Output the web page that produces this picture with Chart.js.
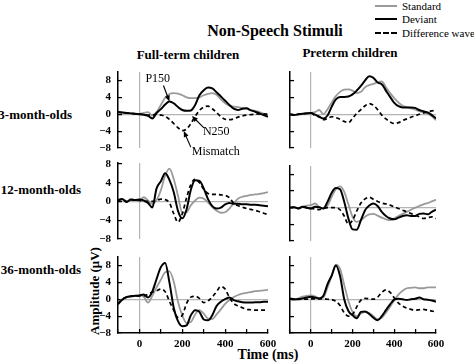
<!DOCTYPE html>
<html>
<head>
<meta charset="utf-8">
<script src="https://cdn.jsdelivr.net/npm/chart.js@4.4.0/dist/chart.umd.min.js"></script>
<style>
  body { margin: 0; background: #fff; }
  #fig { position: relative; width: 474px; height: 362px; overflow: hidden; background: #fff;
         font-family: "Liberation Serif", "Times New Roman", serif; color: #000; }
  #fig canvas { position: absolute; }
  .t { position: absolute; white-space: nowrap; line-height: 1; font-weight: bold; }
  .c { transform: translate(-50%, -50%); }
  .r { transform: translateY(-50%); text-align: right; }
  .key { position: absolute; left: 375px; width: 22px; height: 0; }
  .keytxt { position: absolute; left: 402px; font-size: 11px; line-height: 1; transform: translateY(-50%); white-space: nowrap; }
</style>
</head>
<body>
<div id="fig">
  <div class="t c" style="left:275px; top:31px; font-size:16px;">Non-Speech Stimuli</div>
  <div class="t c" style="left:188px; top:54px; font-size:13px;">Full-term children</div>
  <div class="t c" style="left:350px; top:52px; font-size:13px;">Preterm children</div>

  <div class="t r" style="right:402px; top:114px; font-size:13px;">3-month-olds</div>
  <div class="t r" style="right:393px; top:189px; font-size:13px;">12-month-olds</div>
  <div class="t r" style="right:393px; top:269px; font-size:13px;">36-month-olds</div>

  <div class="t c" style="left:94px; top:291px; font-size:13px; transform: translate(-50%, -50%) rotate(-90deg);">Amplitude (&mu;V)</div>
  <div class="t c" style="left:268px; top:355px; font-size:14px;">Time (ms)</div>

  <div class="key" style="top:5px; border-top: 2px solid #9a9a9a;"></div>
  <div class="keytxt" style="top:6px;">Standard</div>
  <div class="key" style="top:18px; border-top: 2.5px solid #000;"></div>
  <div class="keytxt" style="top:19px;">Deviant</div>
  <div class="key" style="top:32px; border-top: 2px dashed #000;"></div>
  <div class="keytxt" style="top:33px;">Difference wave</div>
</div>

<script>
// time points (ms)
const times = [-100,-80,-60,-40,-20,0,20,40,60,80, 100,120,140,160,180,200,220,240,260,280, 300,320,340,360,380,400,420,440,460,480, 500,520,540,560,580,600];

// full-term, 3 months
const ft3Std  = [0.5,0.4,0.3,0.2,0.1,0.1,0.3,0.5,-0.3,0.5, 2.2,3.9,4.8,5.0,4.9,4.5,4.0,3.8,3.8,4.0, 4.5,4.8,5.0,4.6,3.5,2.6,2.0,1.8,1.7,1.5, 1.3,1.0,0.8,0.5,0.1,-0.4];
const ft3Dev  = [0.5,0.4,0.3,0.2,0.1,0.0,-0.1,-0.4,-1.0,0.3, 1.2,2.3,3.0,2.6,1.7,1.0,0.8,0.9,2.2,4.5, 5.7,6.3,6.1,5.2,4.2,3.2,2.2,1.3,1.0,1.3, 1.4,0.9,0.6,0.2,-0.2,-0.6];
const ft3Diff = [0.5,0.4,0.3,0.2,0.1,0.0,-0.1,-0.2,-0.2,0.0, -0.2,-0.5,-1.2,-2.2,-3.2,-3.9,-3.5,-2.2,-0.5,0.9, 1.7,1.9,1.3,0.4,-0.6,-1.2,-1.3,-1.1,-0.7,-0.4, -0.2,-0.1,0.0,0.1,0.1,0.0];

// full-term, 12 months
const ft12Std  = [0.3,0.4,0.1,0.3,0.3,0.3,0.9,0.2,-0.5,0.3, 2.4,5.5,7.0,4.8,1.2,-2.4,-2.3,-0.8,0.2,0.8, 0.6,-0.2,-1.2,-2.0,-2.4,-2.3,-1.5,-0.4,0.6,1.0, 1.2,1.4,1.5,1.6,1.8,2.0];
const ft12Dev  = [0.3,0.5,-0.1,0.4,0.3,0.4,0.2,-0.3,-1.3,2.8, 4.3,6.0,4.6,2.0,-2.0,-3.6,-1.7,2.5,4.5,4.4, 2.8,0.5,-1.0,-1.5,-1.3,-0.6,-0.3,-0.5,-0.5,-0.6, -0.6,-0.7,-0.7,-0.8,-0.9,-1.0];
const ft12Diff = [0.3,0.5,-0.1,0.4,0.3,0.2,0.0,0.0,0.0,0.2, 0.5,0.4,-0.3,-2.6,-4.4,-2.6,0.8,3.6,4.8,4.0, 2.6,1.7,1.5,1.5,1.4,1.3,0.8,-0.4,-0.9,-1.2, -1.5,-1.7,-1.9,-2.2,-2.5,-2.8];

// full-term, 36 months
const ft36Std  = [-1.0,0.0,0.5,0.7,0.8,0.9,0.6,-0.8,0.8,2.8, 4.6,6.4,6.6,4.2,-0.6,-3.8,-5.6,-5.4,-3.6,-2.6, -3.4,-4.6,-4.7,-3.6,-2.4,-1.1,-0.2,0.5,1.0,1.3, 1.5,1.7,1.9,2.0,2.1,2.2];
const ft36Dev  = [-1.2,-0.1,0.5,0.7,0.8,0.9,1.1,0.4,1.8,4.8, 7.6,8.6,4.0,-2.0,-5.2,-6.4,-6.2,-3.8,-2.6,-3.0, -4.8,-5.0,-3.8,-1.6,-0.6,0.0,0.4,-0.2,-0.5,-0.7, -0.8,-0.8,-0.7,-0.7,-0.6,-0.6];
const ft36Diff = [-1.0,0.0,0.5,0.7,0.8,0.8,0.8,1.2,1.7,2.0, 2.4,1.8,-0.5,-2.6,-4.3,-3.8,-1.0,0.5,0.7,0.2, -0.8,-0.4,0.5,1.8,3.0,2.4,0.4,-1.0,-1.6,-2.0, -2.4,-2.5,-2.6,-2.6,-2.6,-2.6];

// preterm, 3 months
const pt3Std  = [0.0,-0.2,0.0,0.1,0.2,0.3,0.5,1.0,0.0,1.2, 2.8,4.3,5.3,5.8,5.9,5.6,5.0,5.3,6.4,6.9, 7.2,7.6,7.8,6.4,5.0,3.8,2.8,2.0,1.7,1.4, 1.1,0.7,0.4,0.1,-0.5,-1.4];
const pt3Dev  = [0.0,-0.2,0.0,0.1,0.2,0.3,-0.1,-0.6,-1.0,-0.3, 1.8,3.5,4.1,4.1,4.2,4.7,5.6,6.7,8.0,9.0, 8.6,7.5,7.1,5.6,4.1,2.7,1.9,1.6,1.6,1.6, 1.5,1.0,0.7,0.4,-0.2,-1.0];
const pt3Diff = [0.0,-0.2,0.0,0.1,0.2,0.3,-0.3,-0.6,-1.3,-1.0, -0.6,-0.8,-1.2,-1.7,-2.0,-1.0,0.2,1.1,2.0,2.5, 2.1,1.1,-0.2,-1.1,-1.8,-2.2,-2.0,-1.5,-1.1,-0.7, -0.4,0.0,0.3,0.6,0.8,0.9];

// preterm, 12 months
const pt12Std  = [0.0,0.1,-0.1,0.2,0.5,0.6,1.0,0.2,-0.2,0.5, 2.6,4.5,5.1,3.8,0.8,-2.2,-3.4,-3.0,-2.2,-1.6, -1.5,-1.9,-2.4,-2.8,-3.0,-2.6,-2.0,-1.5,-1.0,-0.5, 0.0,0.4,0.8,1.1,1.5,1.9];
const pt12Dev  = [0.0,0.1,-0.2,0.2,0.0,-0.2,0.2,0.1,-0.2,1.4, 3.6,4.7,4.4,1.4,-2.6,-5.2,-5.3,-3.0,-0.6,0.5, 1.0,0.4,-1.0,-2.0,-2.6,-2.8,-2.4,-2.0,-1.8,-2.0, -2.0,-1.5,-1.4,-1.6,-1.0,-0.5];
const pt12Diff = [0.0,0.1,-0.2,0.2,0.0,-0.2,-0.3,-0.5,-0.2,0.0, 0.0,0.0,-0.5,-2.0,-4.0,-3.0,-0.8,1.1,2.1,2.5, 2.0,1.5,1.1,0.9,0.6,0.2,-0.2,-0.6,-1.0,-1.4, -1.8,-2.2,-2.6,-2.4,-2.2,-2.6];

// preterm, 36 months
const pt36Std  = [0.0,-0.1,0.2,0.6,0.8,0.9,0.7,0.2,0.4,2.8, 5.6,8.2,7.2,3.4,-0.4,-3.0,-4.0,-3.4,-3.0,-3.3, -4.0,-4.7,-4.4,-3.2,-1.8,-0.2,1.1,2.0,2.6,2.7, 2.8,2.6,2.6,2.8,2.8,2.8];
const pt36Dev  = [0.2,0.0,0.0,0.2,0.4,0.6,0.4,0.2,0.8,3.6, 5.6,8.0,5.5,0.0,-2.8,-3.8,-4.5,-3.0,-2.9,-3.5, -4.4,-5.0,-4.0,-2.6,-1.2,-0.1,0.1,0.0,-0.2,0.0, 0.1,0.4,0.0,-0.1,-0.3,-0.6];
const pt36Diff = [0.0,0.0,0.0,0.0,0.0,0.1,0.1,0.1,0.1,0.0, -0.1,-0.5,-1.5,-3.2,-4.0,-3.6,-1.8,-0.2,0.2,0.1, 0.0,0.5,1.6,2.2,1.6,0.3,-0.9,-1.6,-2.1,-2.4, -2.6,-2.5,-2.4,-2.6,-2.8,-3.0];

// labelled components in the first panel: arrow tip at (t, v), tail and text offset in px
const notes = [
    { text: 'P150', t: 140, v: 3.0, dx: -6, dy: -16, tx: -24, ty: -23 },
    { text: 'N250', t: 245, v: -0.4, dx: 12, dy: 12, tx: 11, ty: 16 },
    { text: 'Mismatch', t: 207, v: -4.0, dx: 7, dy: 16, tx: 8, ty: 21 }
];

Chart.defaults.font.family = '"Liberation Serif", "Times New Roman", serif';
Chart.defaults.color = '#000';

const notesPlugin = {
    id: 'notes',
    afterDatasetsDraw(chart) {
        const { ctx, scales: { x, y } } = chart;
        ctx.save();
        ctx.strokeStyle = '#000';
        ctx.fillStyle = '#000';
        ctx.lineWidth = 1.1;
        ctx.font = '12px "Liberation Serif", serif';
        ctx.textBaseline = 'middle';
        notes.forEach(n => {
            const px = x.getPixelForValue(n.t);
            const py = y.getPixelForValue(n.v);
            const ang = Math.atan2(-n.dy, -n.dx);
            ctx.beginPath();
            ctx.moveTo(px + n.dx, py + n.dy);
            ctx.lineTo(px - 4 * Math.cos(ang), py - 4 * Math.sin(ang));
            ctx.stroke();
            ctx.beginPath();
            ctx.moveTo(px, py);
            ctx.lineTo(px - 6 * Math.cos(ang) + 2.5 * Math.sin(ang), py - 6 * Math.sin(ang) - 2.5 * Math.cos(ang));
            ctx.lineTo(px - 6 * Math.cos(ang) - 2.5 * Math.sin(ang), py - 6 * Math.sin(ang) + 2.5 * Math.cos(ang));
            ctx.closePath();
            ctx.fill();
            ctx.fillText(n.text, px + n.tx, py + n.ty);
        });
        ctx.restore();
    }
};

const panels = [
    { left: 118, right: 268, top: 72,  bottom: 148, max: 10,  std: ft3Std,  dev: ft3Dev,  diff: ft3Diff,  yLabels: true,  xLabels: false, below: 16, notes: true },
    { left: 290, right: 436, top: 72,  bottom: 148, max: 10,  std: pt3Std,  dev: pt3Dev,  diff: pt3Diff,  yLabels: false, xLabels: false },
    { left: 118, right: 268, top: 163, bottom: 239, max: 8.2, std: ft12Std, dev: ft12Dev, diff: ft12Diff, yLabels: true,  xLabels: false },
    { left: 290, right: 436, top: 166, bottom: 241, max: 10,  std: pt12Std, dev: pt12Dev, diff: pt12Diff, yLabels: false, xLabels: false },
    { left: 118, right: 268, top: 257, bottom: 333, max: 10,  std: ft36Std, dev: ft36Dev, diff: ft36Diff, yLabels: true,  xLabels: true },
    { left: 290, right: 436, top: 257, bottom: 333, max: 10,  std: pt36Std, dev: pt36Dev, diff: pt36Diff, yLabels: false, xLabels: true }
];

const zeroOnly = c => (c.tick && c.tick.value === 0) ? '#b4b4b4' : 'rgba(0,0,0,0)';

function makePanel(p) {
    const yW = 30, padTop = 6, padRight = 16;
    const xH = p.xLabels ? 22 : 0;
    const padBottom = p.below || 6;
    const canvas = document.createElement('canvas');
    canvas.width = p.right - p.left + yW + padRight;
    canvas.height = p.bottom - p.top + padTop + xH + padBottom;
    canvas.style.left = (p.left - yW) + 'px';
    canvas.style.top = (p.top - padTop) + 'px';
    document.getElementById('fig').appendChild(canvas);

    new Chart(canvas, {
        type: 'line',
        data: {
            labels: times,
            datasets: [
                { label: 'Deviant', data: p.dev, borderColor: '#000', borderWidth: 2 },
                { label: 'Difference wave', data: p.diff, borderColor: '#000', borderWidth: 1.7, borderDash: [4, 3] },
                { label: 'Standard', data: p.std, borderColor: '#9a9a9a', borderWidth: 1.8 }
            ]
        },
        options: {
            responsive: false,
            animation: false,
            layout: { autoPadding: false, padding: { left: 0, top: padTop, right: padRight, bottom: padBottom } },
            elements: {
                point: { radius: 0 },
                line: { cubicInterpolationMode: 'monotone', borderJoinStyle: 'round', fill: false }
            },
            plugins: { legend: { display: false }, tooltip: { enabled: false } },
            scales: {
                x: {
                    type: 'linear', min: -100, max: 600,
                    // fixed axis box, no extra label padding
                    afterFit: s => { s.height = xH; s.paddingLeft = 0; s.paddingRight = 0; },
                    ticks: {
                        display: p.xLabels, stepSize: 100, padding: 9, maxRotation: 0, autoSkip: false,
                        font: { size: 11, weight: 'bold' },
                        callback: v => (v >= 0 && v % 200 === 0) ? String(v) : ''
                    },
                    grid: { color: zeroOnly, lineWidth: 1.2, drawTicks: p.xLabels, tickLength: -4, tickColor: '#000', tickWidth: 1.3 },
                    border: { display: p.xLabels, color: '#000', width: 1.5 }
                },
                y: {
                    min: -8, max: p.max,
                    afterFit: s => { s.width = yW; s.paddingTop = 0; s.paddingBottom = 0; },
                    ticks: {
                        display: p.yLabels, stepSize: 4, includeBounds: false, padding: 11, autoSkip: false,
                        font: { size: 11, weight: 'bold' },
                        callback: v => String(v).replace('-', '\u2212')
                    },
                    grid: { color: zeroOnly, lineWidth: 1.2, tickLength: -4, tickColor: '#000', tickWidth: 1.3 },
                    border: { color: '#000', width: 1.5 }
                }
            }
        },
        plugins: p.notes ? [notesPlugin] : []
    });
}

document.addEventListener("DOMContentLoaded", () => {
    panels.forEach(makePanel);
});
</script>
</body>
</html>
